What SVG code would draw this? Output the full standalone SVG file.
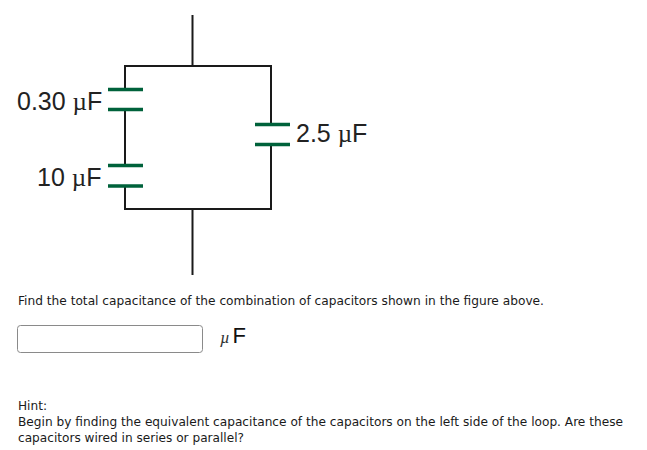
<svg xmlns="http://www.w3.org/2000/svg" width="647" height="450" viewBox="0 0 647 450">
<style>
.w{stroke:#1a1a1a;stroke-width:2;fill:none}
.p{stroke:#00623b;stroke-width:3.6;fill:none}
.l{font-family:"Liberation Sans",Arial,sans-serif;font-size:25px;fill:#222}
.t{font-family:"DejaVu Sans Condensed","DejaVu Sans",sans-serif;font-size:13px;fill:#1a1a1a}
</style>
<rect width="647" height="450" fill="#fff"/>
<g id="connectors">
<path class="w" d="M192.5 15V66M125 89.5V66H271V124.5M125 109.5V165.5M125 186V209H271V144.5M192.5 209V275"/>
</g>
<g id="cap-030">
<path class="p" d="M108 89.5H143M108 109.5H143"/>
<text class="l" x="17" y="110">0.30 <tspan font-family="Liberation Serif">µ</tspan>F</text>
</g>
<g id="cap-10">
<path class="p" d="M108 165.5H143M108 186H143"/>
<text class="l" x="37" y="186">10 <tspan font-family="Liberation Serif">µ</tspan>F</text>
</g>
<g id="cap-25">
<path class="p" d="M255 124.5H290M255 144.5H290"/>
<text class="l" x="296" y="142">2.5 <tspan font-family="Liberation Serif">µ</tspan>F</text>
</g>
<text class="t" x="18" y="305" textLength="526" lengthAdjust="spacingAndGlyphs">Find the total capacitance of the combination of capacitors shown in the figure above.</text>
<g id="answer-box">
<rect x="17.5" y="325.5" width="185" height="27" rx="3" fill="#fff" stroke="#8a8a8a" stroke-width="1"/>
</g>
<text x="220" y="343" font-size="17" fill="#333" font-family="Liberation Serif,serif" font-style="italic">µ</text>
<text x="232.5" y="343" font-size="22" fill="#111" font-family="Liberation Sans,sans-serif">F</text>
<text class="t" x="18" y="410" textLength="29" lengthAdjust="spacingAndGlyphs">Hint:</text>
<text class="t" x="18" y="426" textLength="605" lengthAdjust="spacingAndGlyphs">Begin by finding the equivalent capacitance of the capacitors on the left side of the loop. Are these</text>
<text class="t" x="18" y="442" textLength="226" lengthAdjust="spacingAndGlyphs">capacitors wired in series or parallel?</text>
</svg>
